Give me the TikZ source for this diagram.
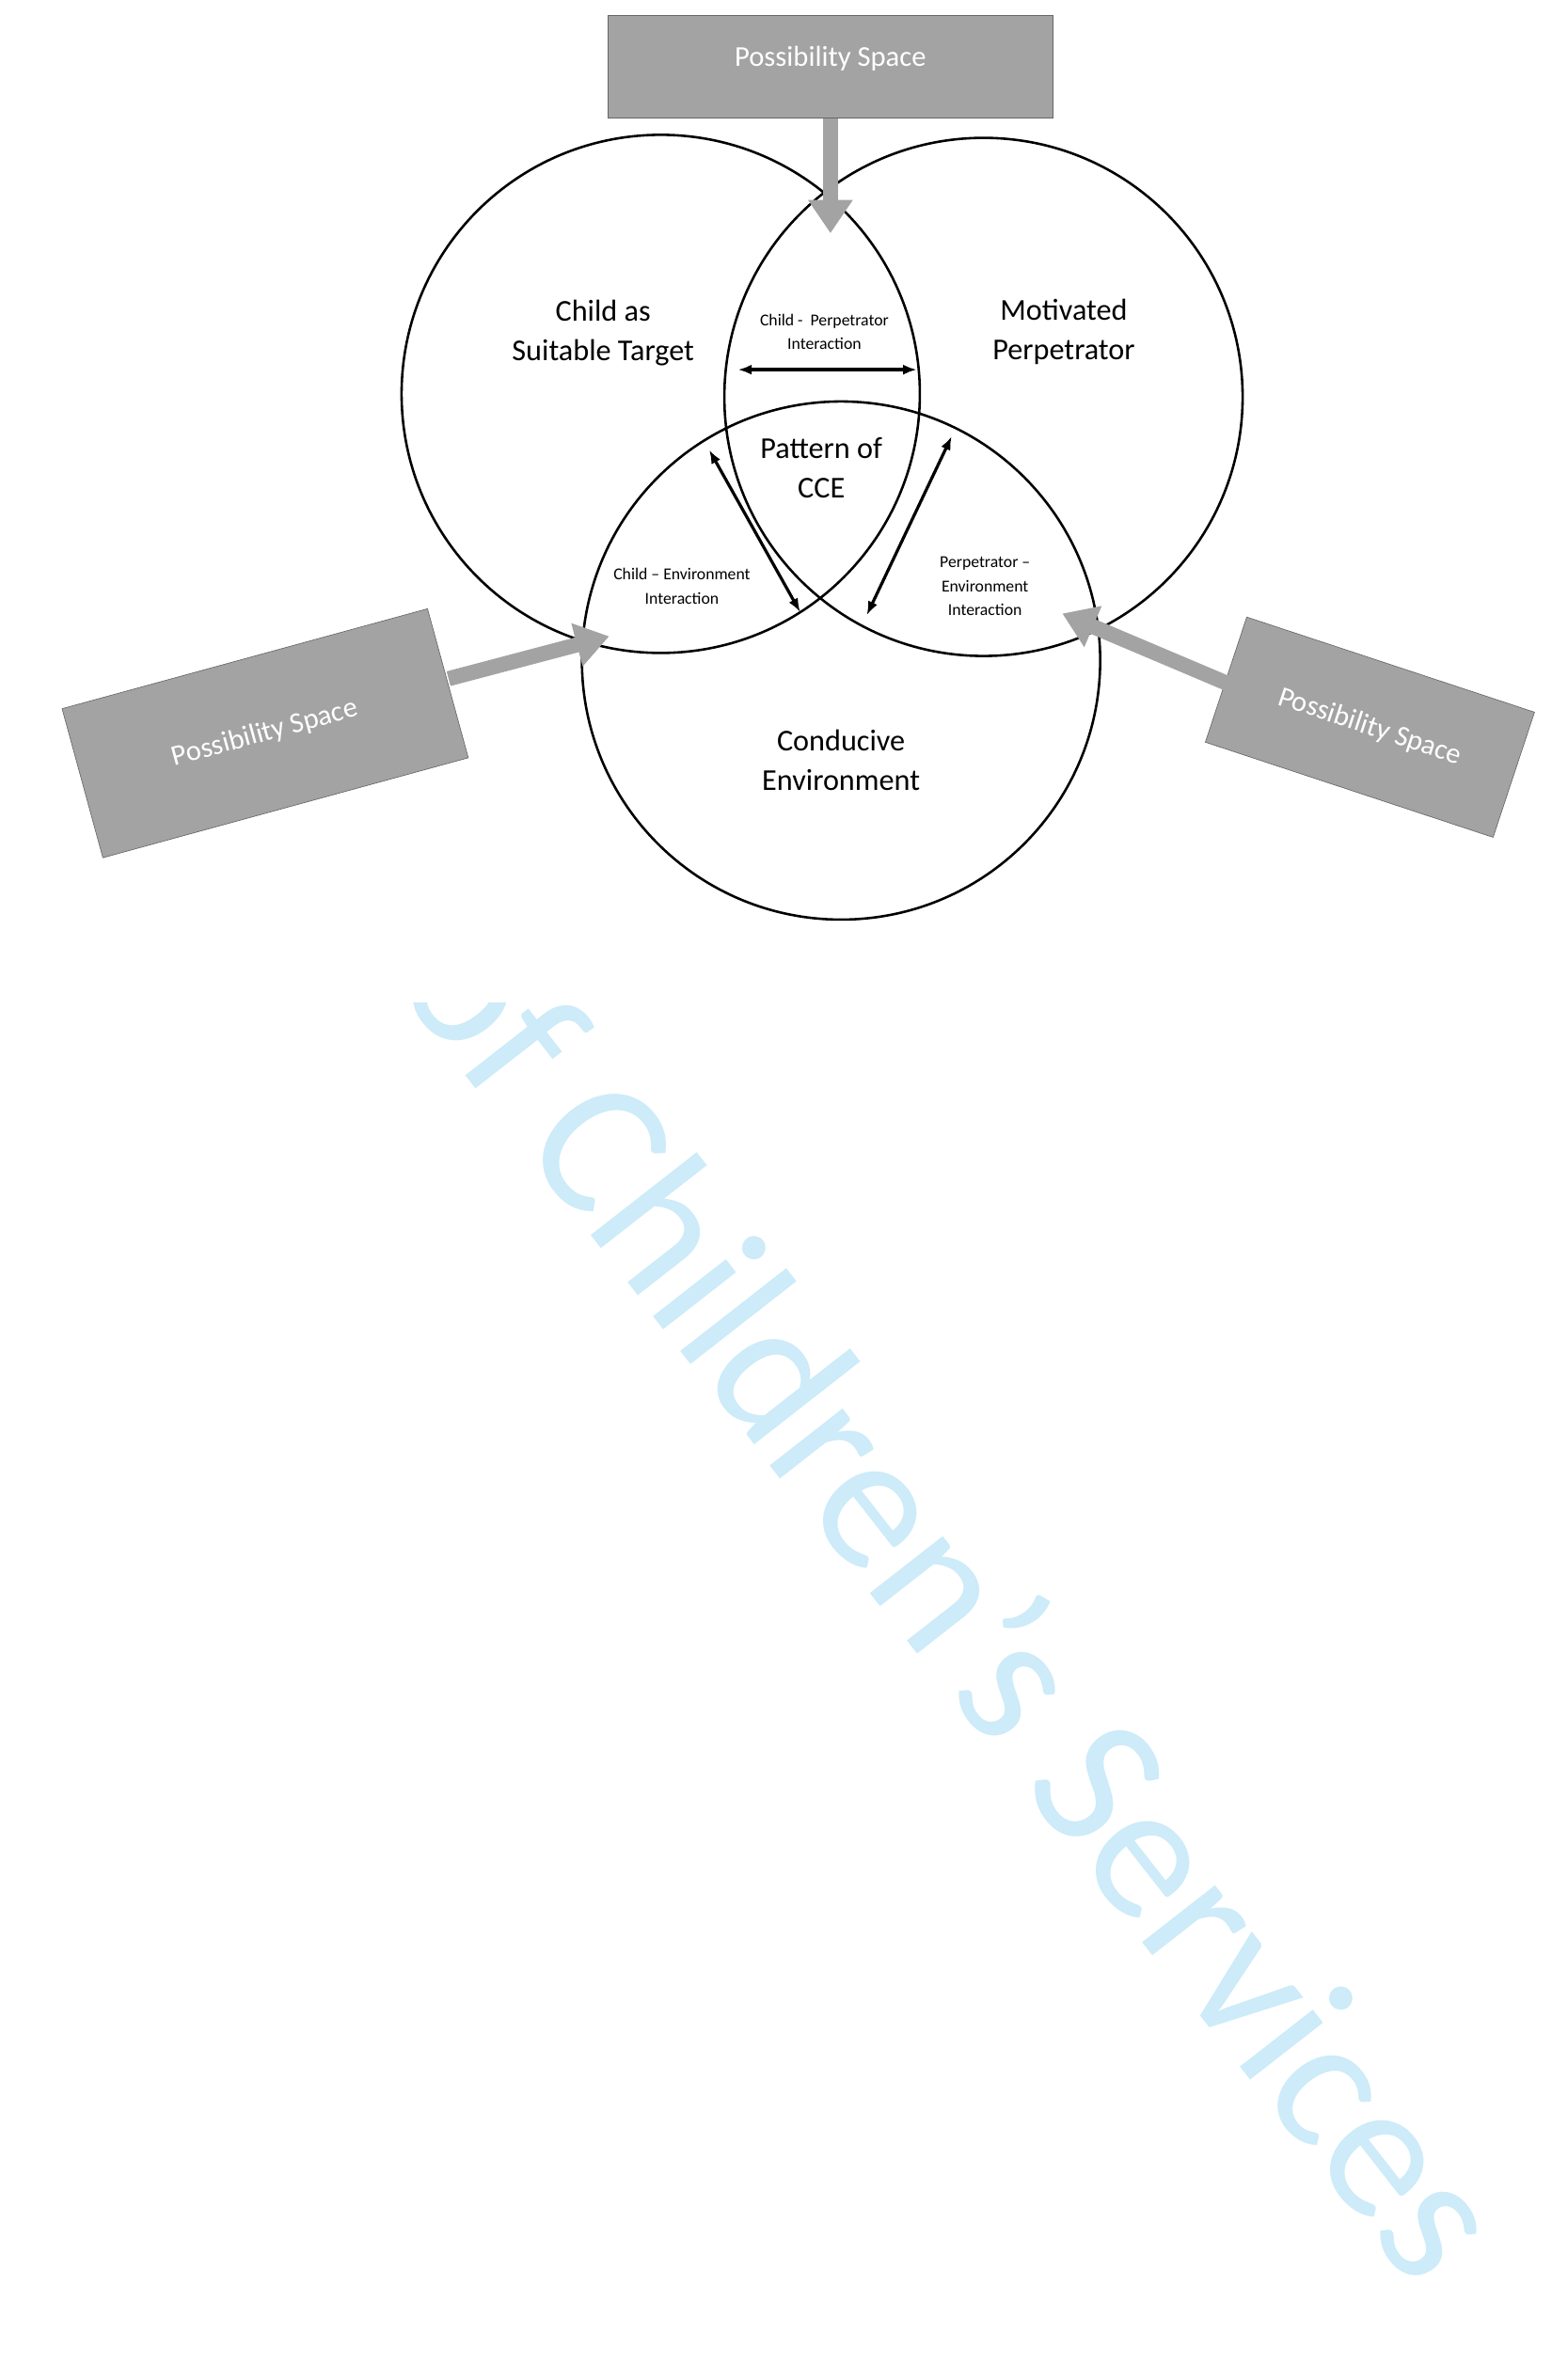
\documentclass[tikz,border=0pt]{standalone}
\usepackage{fontspec}
\setmainfont{Carlito}
\usetikzlibrary{arrows.meta}
\definecolor{boxg}{HTML}{A3A3A3}
\definecolor{wm}{HTML}{CDEBF8}
\begin{document}
\begin{tikzpicture}[x=1pt,y=-1pt,
  circ/.style={draw,line width=1.6pt},
  psbox/.style={draw=gray!80!black,fill=boxg,text=white,font=\fontsize{19}{22}\selectfont,inner sep=0pt},
  bigarrow/.style={draw=boxg,line width=10pt,-{Triangle[length=22pt,width=28pt]}},
  dbl/.style={line width=2pt,{Latex[length=9pt]}-{Latex[length=9pt]}},
  lab/.style={align=center,font=\fontsize{20}{26}\selectfont},
  small/.style={align=center,font=\fontsize{11}{16}\selectfont}]
\useasboundingbox (0,0) rectangle (1024,1571);
\begin{scope}
\clip (0,662) rectangle (1024,1571);
\node[text=wm,rotate=-52,font=\fontsize{128}{130}\selectfont,anchor=west] (wmk) at (292,618) {of Children's Services};
\end{scope}
\node[circ,circle,minimum size=342pt,inner sep=0pt] (ca) at (436,260) {};
\node[circ,circle,minimum size=342pt,inner sep=0pt] (cb) at (649,262) {};
\node[circ,circle,minimum size=342pt,inner sep=0pt] (cc) at (555,436) {};
\node[lab] (t1) at (398,220) {Child as\\Suitable Target};
\node[lab] (t2) at (702,219) {Motivated\\Perpetrator};
\node[lab] (t3) at (555,502) {Conducive\\Environment};
\node[lab] (t4) at (542,309) {Pattern of\\CCE};
\node[small] (s1) at (544,219) {Child -\ \ Perpetrator\\Interaction};
\node[small] (s2) at (450,387) {Child – Environment\\Interaction};
\node[small] (s3) at (650,387) {Perpetrator –\\Environment\\Interaction};
\coordinate (a1) at (487,244); \coordinate (a2) at (605,244);
\coordinate (b1) at (468,297); \coordinate (b2) at (528,404);
\coordinate (c1) at (628,288); \coordinate (c2) at (572,406);
\draw[dbl] (a1) -- (a2);
\draw[dbl] (b1) -- (b2);
\draw[dbl] (c1) -- (c2);
\node[psbox,minimum width=294pt,minimum height=68pt,text depth=14pt] (p1) at (548,44) {Possibility Space};
\node[psbox,minimum width=250pt,minimum height=102pt,rotate=15.3] (p2) at (175,484) {Possibility Space};
\node[psbox,minimum width=200pt,minimum height=87pt,rotate=-18.3] (p3) at (904,480) {Possibility Space};
\coordinate (e1) at (548,154);
\coordinate (e2) at (402,420);
\coordinate (e3) at (701,405);
\draw[bigarrow] (p1.south) -- (e1);
\draw[bigarrow] (296,448) -- (e2);
\draw[bigarrow] (812,452) -- (e3);
\end{tikzpicture}
\end{document}
